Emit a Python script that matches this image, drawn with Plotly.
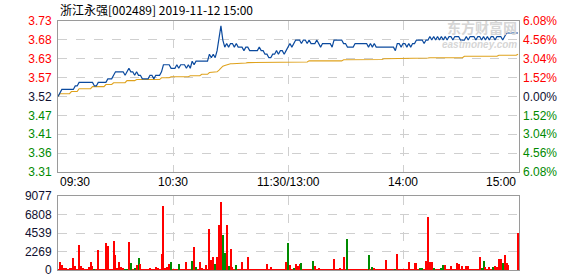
import plotly.graph_objects as go

# ---------------- data ----------------
title_text = "浙江永强[002489] 2019-11-12 15:00"
pre_close = 3.52
minute_idx = list(range(241))
x_tick_minutes = [0, 60, 120, 180, 240]
x_tick_labels = ["09:30", "10:30", "11:30/13:00", "14:00", "15:00"]

price = [
    3.52, 3.53, 3.54, 3.54, 3.54, 3.54, 3.54, 3.54, 3.54, 3.55,
    3.55, 3.56, 3.56, 3.56, 3.56, 3.56, 3.56, 3.56, 3.56, 3.55,
    3.55, 3.56, 3.56, 3.56, 3.56, 3.56, 3.57, 3.57, 3.57, 3.58,
    3.59, 3.59, 3.59, 3.59, 3.59, 3.58, 3.59, 3.60, 3.59, 3.59,
    3.58, 3.59, 3.58, 3.58, 3.57, 3.57, 3.57, 3.57, 3.58, 3.58,
    3.57, 3.58, 3.58, 3.58, 3.59, 3.61, 3.61, 3.61, 3.61, 3.60,
    3.60, 3.60, 3.61, 3.60, 3.61, 3.61, 3.61, 3.60, 3.61, 3.60,
    3.62, 3.61, 3.62, 3.62, 3.62, 3.62, 3.62, 3.62, 3.62, 3.64,
    3.63, 3.64, 3.63, 3.65, 3.69, 3.72, 3.68, 3.66, 3.67, 3.66,
    3.67, 3.67, 3.66, 3.67, 3.66, 3.66, 3.66, 3.65, 3.66, 3.66,
    3.65, 3.65, 3.65, 3.65, 3.65, 3.66, 3.65, 3.65, 3.64, 3.64,
    3.63, 3.63, 3.64, 3.64, 3.65, 3.64, 3.65, 3.65, 3.64, 3.65,
    3.66, 3.67, 3.66, 3.67, 3.68, 3.68, 3.68, 3.67, 3.68, 3.68,
    3.67, 3.68, 3.67, 3.67, 3.67, 3.68, 3.67, 3.66, 3.67, 3.67,
    3.67, 3.67, 3.67, 3.66, 3.68, 3.68, 3.68, 3.68, 3.68, 3.67,
    3.67, 3.66, 3.66, 3.66, 3.66, 3.67, 3.67, 3.67, 3.67, 3.67,
    3.67, 3.67, 3.66, 3.67, 3.66, 3.67, 3.66, 3.66, 3.66, 3.66,
    3.66, 3.66, 3.66, 3.66, 3.66, 3.66, 3.65, 3.67, 3.67, 3.66,
    3.67, 3.67, 3.66, 3.67, 3.66, 3.67, 3.67, 3.68, 3.68, 3.68,
    3.68, 3.67, 3.68, 3.68, 3.69, 3.68, 3.69, 3.68, 3.69, 3.68,
    3.69, 3.68, 3.69, 3.68, 3.69, 3.69, 3.68, 3.69, 3.69, 3.69,
    3.68, 3.68, 3.68, 3.69, 3.68, 3.69, 3.69, 3.69, 3.68, 3.69,
    3.69, 3.68, 3.69, 3.68, 3.69, 3.68, 3.69, 3.69, 3.68, 3.69,
    3.69, 3.69, 3.68, 3.69, 3.70, 3.70, 3.70, 3.70, 3.70, 3.70,
    3.70,
]

avg_price = [
    3.520, 3.528, 3.528, 3.528, 3.528, 3.528, 3.528, 3.534, 3.534, 3.534,
    3.534, 3.542, 3.542, 3.542, 3.542, 3.542, 3.542, 3.542, 3.548, 3.548,
    3.548, 3.548, 3.548, 3.548, 3.548, 3.554, 3.554, 3.554, 3.554, 3.559,
    3.559, 3.559, 3.559, 3.559, 3.559, 3.559, 3.565, 3.565, 3.565, 3.565,
    3.565, 3.568, 3.568, 3.568, 3.568, 3.568, 3.568, 3.568, 3.568, 3.568,
    3.568, 3.568, 3.568, 3.568, 3.573, 3.573, 3.573, 3.573, 3.573, 3.576,
    3.576, 3.576, 3.576, 3.576, 3.576, 3.576, 3.576, 3.576, 3.576, 3.579,
    3.579, 3.579, 3.579, 3.579, 3.579, 3.583, 3.583, 3.583, 3.583, 3.588,
    3.588, 3.588, 3.588, 3.590, 3.595, 3.601, 3.606, 3.608, 3.610, 3.612,
    3.613, 3.613, 3.613, 3.613, 3.613, 3.613, 3.613, 3.613, 3.615, 3.616,
    3.616, 3.616, 3.616, 3.616, 3.616, 3.616, 3.616, 3.616, 3.616, 3.616,
    3.616, 3.616, 3.616, 3.616, 3.616, 3.616, 3.616, 3.616, 3.616, 3.616,
    3.618, 3.618, 3.618, 3.618, 3.618, 3.618, 3.618, 3.618, 3.618, 3.618,
    3.618, 3.621, 3.621, 3.621, 3.621, 3.621, 3.621, 3.621, 3.621, 3.621,
    3.621, 3.621, 3.621, 3.621, 3.621, 3.621, 3.621, 3.621, 3.621, 3.624,
    3.624, 3.624, 3.624, 3.624, 3.624, 3.624, 3.624, 3.624, 3.624, 3.624,
    3.624, 3.624, 3.625, 3.625, 3.625, 3.625, 3.625, 3.625, 3.625, 3.625,
    3.627, 3.627, 3.627, 3.627, 3.627, 3.627, 3.627, 3.627, 3.627, 3.627,
    3.627, 3.627, 3.627, 3.627, 3.627, 3.627, 3.627, 3.627, 3.627, 3.627,
    3.627, 3.627, 3.627, 3.629, 3.630, 3.630, 3.630, 3.630, 3.630, 3.630,
    3.630, 3.630, 3.630, 3.630, 3.630, 3.630, 3.630, 3.630, 3.630, 3.630,
    3.630, 3.630, 3.634, 3.634, 3.634, 3.634, 3.634, 3.634, 3.634, 3.634,
    3.634, 3.634, 3.634, 3.634, 3.634, 3.634, 3.634, 3.634, 3.634, 3.634,
    3.637, 3.637, 3.637, 3.637, 3.637, 3.637, 3.637, 3.637, 3.637, 3.637,
    3.640,
]

volume = [
    120, 980, 615, 160, 245, 120, 245, 245, 1470, 490,
    120, 3070, 490, 245, 120, 120, 370, 980, 490, 120,
    120, 2450, 120, 120, 120, 3310, 2945, 120, 120, 3560,
    1840, 245, 980, 370, 245, 120, 120, 3435, 860, 120,
    245, 615, 1470, 735, 120, 120, 120, 120, 245, 120,
    120, 370, 245, 120, 1960, 7850, 245, 370, 735, 980,
    120, 120, 120, 735, 120, 120, 120, 980, 120, 120,
    1100, 2820, 370, 120, 980, 245, 120, 615, 120, 5030,
    1230, 1600, 735, 1600, 5520, 8340, 4290, 2085, 5520, 490,
    2580, 370, 120, 615, 120, 120, 980, 120, 120, 1600,
    120, 120, 120, 120, 120, 120, 120, 120, 120, 735,
    120, 370, 120, 120, 120, 120, 120, 120, 120, 980,
    3300, 615, 120, 245, 735, 490, 735, 860, 120, 120,
    120, 120, 120, 1100, 490, 120, 245, 120, 120, 120,
    120, 120, 120, 120, 1350, 120, 120, 245, 120, 1600,
    120, 3800, 120, 120, 120, 120, 120, 120, 120, 120,
    120, 120, 1840, 120, 370, 245, 120, 120, 120, 120,
    120, 1230, 120, 120, 120, 120, 120, 1960, 120, 120,
    120, 120, 120, 980, 120, 120, 860, 860, 120, 245,
    245, 120, 1100, 6500, 980, 980, 245, 120, 120, 120,
    245, 615, 615, 120, 120, 490, 120, 120, 860, 735,
    120, 490, 120, 490, 490, 120, 120, 120, 120, 120,
    1600, 245, 1100, 370, 120, 370, 120, 370, 490, 370,
    1350, 1350, 860, 1840, 860, 615, 0, 0, 0, 0,
    4540,
]

volume_dir = [
    "u", "u", "u", "u", "u", "u", "u", "u", "u", "u",
    "u", "u", "u", "u", "u", "u", "u", "u", "u", "d",
    "u", "u", "u", "u", "u", "u", "u", "u", "u", "u",
    "u", "u", "u", "u", "u", "d", "d", "u", "d", "u",
    "d", "u", "d", "u", "u", "u", "u", "u", "u", "u",
    "u", "u", "u", "u", "u", "u", "u", "u", "u", "d",
    "u", "u", "u", "d", "u", "u", "u", "u", "u", "u",
    "d", "u", "d", "u", "u", "u", "u", "u", "u", "u",
    "u", "u", "d", "u", "u", "u", "d", "d", "u", "d",
    "u", "u", "u", "d", "u", "u", "u", "u", "u", "u",
    "u", "u", "u", "u", "u", "u", "u", "u", "u", "u",
    "u", "u", "u", "u", "u", "u", "u", "u", "u", "u",
    "d", "u", "u", "d", "u", "u", "u", "d", "u", "u",
    "u", "u", "u", "d", "u", "u", "u", "u", "u", "u",
    "u", "u", "u", "u", "u", "u", "u", "u", "u", "u",
    "u", "d", "u", "u", "u", "u", "u", "u", "u", "u",
    "u", "u", "d", "u", "d", "u", "u", "u", "u", "u",
    "u", "u", "u", "u", "u", "u", "d", "u", "u", "u",
    "u", "u", "u", "u", "u", "u", "u", "u", "u", "d",
    "d", "u", "u", "u", "u", "u", "d", "u", "u", "u",
    "d", "d", "u", "u", "u", "u", "u", "u", "u", "u",
    "u", "u", "u", "u", "u", "u", "u", "u", "u", "u",
    "u", "d", "d", "u", "u", "u", "u", "d", "u", "u",
    "u", "u", "d", "u", "u", "u", "u", "u", "u", "u",
    "u",
]

pct_ticks = [-6.08, -4.56, -3.04, -1.52, 0.00, 1.52, 3.04, 4.56, 6.08]
price_tick_labels = ["3.31", "3.36", "3.41", "3.47", "3.52", "3.57", "3.63", "3.68", "3.73"]
pct_tick_labels = ["6.08%", "4.56%", "3.04%", "1.52%", "0.00%", "1.52%", "3.04%", "4.56%", "6.08%"]
vol_ticks = [0, 2269, 4539, 6808, 9077]

# ---------------- styling ----------------
RED = "#ff0000"
GREEN = "#008a00"
DARK = "#101030"
GRID = "#cfcfcf"
FRAME = "#9a9a9a"
FONT = "Liberation Sans, Arial, sans-serif"


def color_for(p):
    if p > 0:
        return RED
    if p < 0:
        return GREEN
    return DARK


tick_pos = [pre_close * (1 + p / 100.0) for p in pct_ticks]
left_text = [f"<span style='color:{color_for(p)}'>{t}</span>" for p, t in zip(pct_ticks, price_tick_labels)]
right_text = [f"<span style='color:{color_for(p)}'>{t}</span>" for p, t in zip(pct_ticks, pct_tick_labels)]
yr = [tick_pos[0], tick_pos[-1]]
bar_colors = [RED if d == "u" else GREEN for d in volume_dir]

fig = go.Figure()
fig.add_trace(go.Scatter(x=minute_idx, y=avg_price, mode="lines",
                         line=dict(color="#dfa21c", width=1.1), hoverinfo="skip",
                         xaxis="x", yaxis="y"))
fig.add_trace(go.Scatter(x=minute_idx, y=price, mode="lines",
                         line=dict(color="#0b4a9e", width=1.2), hoverinfo="skip",
                         xaxis="x", yaxis="y"))
fig.add_trace(go.Scatter(x=[minute_idx[0]], y=[pre_close], mode="markers",
                         marker=dict(opacity=0), hoverinfo="skip",
                         xaxis="x", yaxis="y2"))
fig.add_trace(go.Bar(x=minute_idx, y=volume,
                     marker=dict(color=bar_colors, opacity=1, line=dict(width=0)),
                     width=0.52, hoverinfo="skip", xaxis="x2", yaxis="y3"))

axis_common = dict(showline=True, mirror=True, linecolor=FRAME, linewidth=1,
                   zeroline=False, ticks="", fixedrange=True, automargin=False,
                   ticklabeloverflow="allow")

# pixel geometry
H = 276
top, bottom = 21, 270
ph = bottom - top
price_dom = [(bottom - 172) / ph, 1.0]
vol_dom = [0.0, (bottom - 196) / ph]

fig.update_layout(
    width=578, height=276,
    margin=dict(l=58, r=59, t=top, b=H - bottom, pad=0, autoexpand=False),
    paper_bgcolor="white", plot_bgcolor="white",
    showlegend=False, bargap=0,
    font=dict(family=FONT, size=12, color=DARK),
    xaxis=dict(domain=[0, 1], range=[0, 240.5], anchor="y",
               tickvals=x_tick_minutes[1:-1], showticklabels=False,
               showgrid=True, gridcolor=GRID, griddash="dash", gridwidth=1,
               **axis_common),
    yaxis=dict(domain=price_dom, range=yr, anchor="x",
               tickvals=tick_pos, ticktext=left_text,
               tickfont=dict(family=FONT, size=12),
               showgrid=True, gridcolor=GRID, griddash="dash", gridwidth=1,
               ticklabelstandoff=3,
               **axis_common),
    yaxis2=dict(overlaying="y", side="right", range=yr, anchor="x",
                tickvals=tick_pos, ticktext=right_text,
                tickfont=dict(family=FONT, size=12),
                showgrid=False, showline=False, zeroline=False, ticks="",
                ticklabelstandoff=3, fixedrange=True, automargin=False,
                ticklabeloverflow="allow"),
    xaxis2=dict(domain=[0, 1], range=[0, 240.5], anchor="y3", matches="x",
                tickvals=x_tick_minutes[1:-1], showticklabels=False,
                showgrid=True, gridcolor=GRID, griddash="dash", gridwidth=1,
                **axis_common),
    yaxis3=dict(domain=vol_dom, range=[0, vol_ticks[-1]], anchor="x2",
                tickvals=vol_ticks, ticktext=[str(v) for v in vol_ticks],
                tickfont=dict(family=FONT, size=12, color=DARK),
                showgrid=True, gridcolor=GRID, griddash="dash", gridwidth=1,
                ticklabelstandoff=3,
                **axis_common),
)

annotations = []
xlab_y = (bottom - 182) / ph
for i, (m, lab) in enumerate(zip(x_tick_minutes, x_tick_labels)):
    anchor = "left" if i == 0 else ("right" if i == len(x_tick_labels) - 1 else "center")
    annotations.append(dict(x=m, y=xlab_y, xref="x", yref="paper", text=lab,
                            showarrow=False, xanchor=anchor, yanchor="middle",
                            font=dict(family=FONT, size=12, color="#000000")))
annotations.append(dict(x=0, y=(bottom - 9) / ph, xref="paper", yref="paper",
                        text=title_text, showarrow=False, xanchor="left", yanchor="middle",
                        font=dict(family="Noto Sans CJK SC, sans-serif", size=12, color="#000000")))
annotations.append(dict(x=1.0, y=(bottom - 27) / ph, xref="paper", yref="paper",
                        text="<b>东方财富网</b>", showarrow=False, xanchor="right", yanchor="middle",
                        font=dict(family="Noto Sans CJK SC, sans-serif", size=14, color="#d6d6d6")))
annotations.append(dict(x=1.0, y=(bottom - 45) / ph, xref="paper", yref="paper",
                        text="<b><i>eastmoney.com</i></b>", showarrow=False, xanchor="right", yanchor="middle",
                        font=dict(family=FONT, size=10, color="#d6d6d6")))
fig.update_layout(annotations=annotations)

fig.write_html("out.html", config={"displayModeBar": False})
